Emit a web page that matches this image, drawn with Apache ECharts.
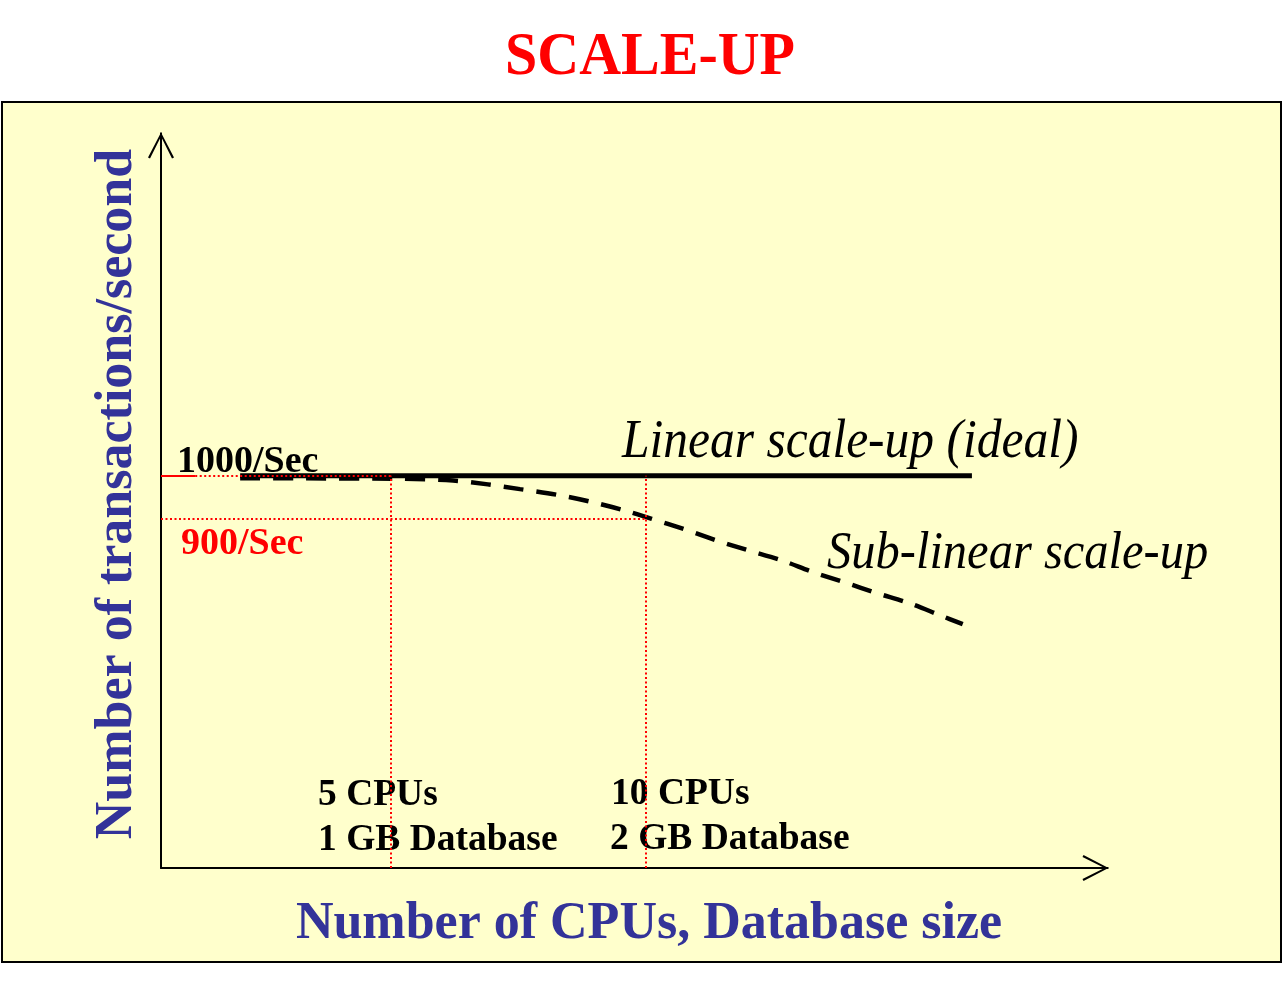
<!DOCTYPE html>
<html>
<head>
<meta charset="utf-8">
<script src="https://cdn.jsdelivr.net/npm/echarts@6/dist/echarts.min.js"></script>
<style>
html,body{margin:0;padding:0;background:#ffffff;}
#chart{width:1283px;height:999px;}
</style>
</head>
<body>
<div id="chart"></div>
<script>
// ---- data ----
const titleText = 'SCALE-UP';
const xAxisTitle = 'Number of CPUs, Database size';
const yAxisTitle = 'Number of transactions/second';
const idealName = 'Linear scale-up (ideal)';
const subName = 'Sub-linear scale-up';

const xRange = [0.5, 18.8];          // CPUs (conceptual axis)
const yRange = [88, 1768];           // transactions/second

const idealX = [2.05, 16.38];
const idealY = [1000, 1000];

const subX = [2.05, 3.22, 5.18, 6.22, 6.90, 7.53, 8.25, 8.90, 9.53, 10.11, 10.74, 11.37, 11.99, 12.64, 13.27, 13.89, 14.52, 15.15, 15.75, 16.20];
const subY = [994, 994, 993, 989, 980, 969, 956, 940, 921, 900, 876, 850, 827, 804, 776, 752, 727, 704, 676, 655];

const refCpus = [5, 10];
const refDb = ['1 GB Database', '2 GB Database'];
const refCpuLabels = ['5 CPUs', '10 CPUs'];
const refRates = [1000, 900];
const refRateLabels = ['1000/Sec', '900/Sec'];
const redSolidEnd = 1.17;

// ---- build ----
const serif = '"Liberation Serif", "Times New Roman", serif';
const arrowPath = 'path://M13,0 L26,25 L24,26 L13,4 L2,26 L0,25 Z M12,0 L14,0 L14,26 L12,26 Z';
const idealData = idealX.map((x, i) => [x, idealY[i]]);
const subData = subX.map((x, i) => [x, subY[i]]);

const dotted = {color: '#ff0000', width: 2, type: [2, 2.5]};
const guideLines = [
  [{coord: [xRange[0], refRates[0]], lineStyle: {color: '#ff0000', width: 2, type: 'solid'}}, {coord: [redSolidEnd, refRates[0]]}],
  [{coord: [redSolidEnd, refRates[0]]}, {coord: [refCpus[0], refRates[0]]}],
  [{coord: [xRange[0], refRates[1]]}, {coord: [refCpus[1], refRates[1]]}],
  [{coord: [refCpus[0], yRange[0]]}, {coord: [refCpus[0], refRates[0]]}],
  [{coord: [refCpus[1], yRange[0]]}, {coord: [refCpus[1], refRates[0]]}]
];

const dy = 4;
function txt(text, x, y, size, color, opts) {
  opts = opts || {};
  return {
    type: 'text', x: x, y: y, z: 1,
    rotation: opts.rotation || 0,
    scaleY: opts.scaleY || 1,
    style: {
      text: text, fill: color,
      fontFamily: serif, fontSize: size,
      fontWeight: opts.italic ? 'normal' : 'bold',
      fontStyle: opts.italic ? 'italic' : 'normal',
      align: opts.align || 'left', textAlign: opts.align || 'left',
      verticalAlign: 'middle', textVerticalAlign: 'middle'
    }
  };
}

const chart = echarts.init(document.getElementById('chart'));
chart.setOption({
  animation: false,
  backgroundColor: '#ffffff',
  grid: {left: 161, right: 187.5, top: 145.5, bottom: 131, containLabel: false},
  xAxis: {
    type: 'value', min: xRange[0], max: xRange[1],
    axisLine: {show: true, onZero: false, lineStyle: {color: '#000', width: 2},
      symbol: ['none', arrowPath], symbolSize: [26, 26]},
    axisTick: {show: false}, axisLabel: {show: false}, splitLine: {show: false}
  },
  yAxis: {
    type: 'value', min: yRange[0], max: yRange[1],
    axisLine: {show: true, onZero: false, lineStyle: {color: '#000', width: 2},
      symbol: ['none', arrowPath], symbolSize: [26, 26]},
    axisTick: {show: false}, axisLabel: {show: false}, splitLine: {show: false}
  },
  graphic: {
    elements: [
      {type: 'rect', z: 0, shape: {x: 2, y: 102, width: 1279, height: 860},
        style: {fill: '#ffffcc', stroke: '#000000', lineWidth: 2}},
      txt(titleText, 650, 54.5 + 3, 58, '#ff0000', {align: 'center', scaleY: 1.07}),
      txt(xAxisTitle, 649, 920.5 + dy, 52, '#333399', {align: 'center'}),
      txt(yAxisTitle, 118, 494, 52, '#333399', {align: 'center', rotation: Math.PI / 2}),
      txt(idealName, 622, 438.5 + dy, 49.5, '#000000', {italic: true, scaleY: 1.1}),
      txt(subName, 827, 550 + dy, 48.5, '#000000', {italic: true, scaleY: 1.08}),
      txt(refRateLabels[0], 177, 458 + dy, 38, '#000000'),
      txt(refRateLabels[1], 181, 540.5 + dy, 38, '#ff0000'),
      txt(refCpuLabels[0], 318, 791.5 + dy, 37.5, '#000000'),
      txt(refDb[0], 318, 836.5 + dy, 37.5, '#000000'),
      txt(refCpuLabels[1], 611, 790 + dy, 37.5, '#000000'),
      txt(refDb[1], 610, 835 + dy, 37.5, '#000000')
    ]
  },
  series: [
    {
      name: idealName, type: 'line', data: idealData, showSymbol: false, symbol: 'none',
      lineStyle: {color: '#000', width: 5}, z: 3, silent: true
    },
    {
      name: subName, type: 'line', data: subData, showSymbol: false, symbol: 'none', smooth: 0.3,
      lineStyle: {color: '#000', width: 4.5, type: [20, 13]}, z: 2, silent: true
    },
    {
      name: 'guides', type: 'line', data: [], z: 5, silent: true,
      markLine: {
        silent: true, symbol: ['none', 'none'], label: {show: false},
        lineStyle: dotted, emphasis: {disabled: true},
        data: guideLines
      }
    }
  ]
});
</script>
</body>
</html>
